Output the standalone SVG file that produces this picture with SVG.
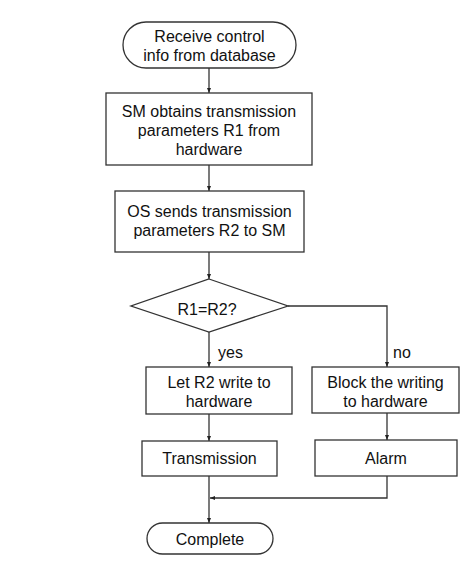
<svg xmlns="http://www.w3.org/2000/svg" width="474" height="564" viewBox="0 0 474 564">
<style>
.n{fill:#fff;stroke:#333;stroke-width:1.3}
.t{font-family:"Liberation Sans",Arial,sans-serif;font-size:16px;fill:#111;text-anchor:middle}
.l{font-family:"Liberation Sans",Arial,sans-serif;font-size:16px;fill:#111}
.c{fill:none;stroke:#333;stroke-width:1.3}
</style>
<defs>
<marker id="a" viewBox="0 0 10 10" refX="10" refY="5" markerWidth="5" markerHeight="5" orient="auto" markerUnits="userSpaceOnUse">
<path d="M0,1 L10,5 L0,9 z" fill="#222"/>
</marker>
</defs>
<rect width="474" height="564" fill="#fff"/>
<g id="connectors">
<path class="c" d="M209,68 V93" marker-end="url(#a)"/>
<path class="c" d="M209,165 V191" marker-end="url(#a)"/>
<path class="c" d="M209,252 V279" marker-end="url(#a)"/>
<path class="c" d="M209,332 V367" marker-end="url(#a)"/>
<path class="c" d="M288,306 H387 V367" marker-end="url(#a)"/>
<path class="c" d="M209,414 V441" marker-end="url(#a)"/>
<path class="c" d="M387,413 V440" marker-end="url(#a)"/>
<path class="c" d="M209,476 V523" marker-end="url(#a)"/>
<path class="c" d="M387,476 V498 H210" marker-end="url(#a)"/>
<text class="l" x="218" y="358">yes</text>
<text class="l" x="393" y="358">no</text>
</g>
<g id="start">
<rect class="n" x="123" y="22" width="173" height="46" rx="23"/>
<text class="t" x="209.5" y="42">Receive control</text>
<text class="t" x="209.5" y="61">info from database</text>
</g>
<g id="obtain">
<rect class="n" x="106" y="93" width="206" height="72"/>
<text class="t" x="209" y="117">SM obtains transmission</text>
<text class="t" x="209" y="136">parameters R1 from</text>
<text class="t" x="209" y="155">hardware</text>
</g>
<g id="send">
<rect class="n" x="115" y="191" width="189" height="61"/>
<text class="t" x="209.5" y="217">OS sends transmission</text>
<text class="t" x="209.5" y="236">parameters R2 to SM</text>
</g>
<g id="decision">
<path class="n" d="M209,279 L288,306 L209,332 L131,306 Z"/>
<text class="t" x="207" y="315">R1=R2?</text>
</g>
<g id="write">
<rect class="n" x="146" y="367" width="146" height="47"/>
<text class="t" x="219" y="388">Let R2 write to</text>
<text class="t" x="219" y="407">hardware</text>
</g>
<g id="block">
<rect class="n" x="312" y="367" width="147" height="46"/>
<text class="t" x="385.5" y="388">Block the writing</text>
<text class="t" x="385.5" y="407">to hardware</text>
</g>
<g id="transmission">
<rect class="n" x="142" y="441" width="135" height="35"/>
<text class="t" x="209.5" y="464">Transmission</text>
</g>
<g id="alarm">
<rect class="n" x="315" y="440" width="142" height="36"/>
<text class="t" x="386" y="464">Alarm</text>
</g>
<g id="complete">
<rect class="n" x="147" y="523" width="126" height="31" rx="15.5"/>
<text class="t" x="210" y="545">Complete</text>
</g>
</svg>
